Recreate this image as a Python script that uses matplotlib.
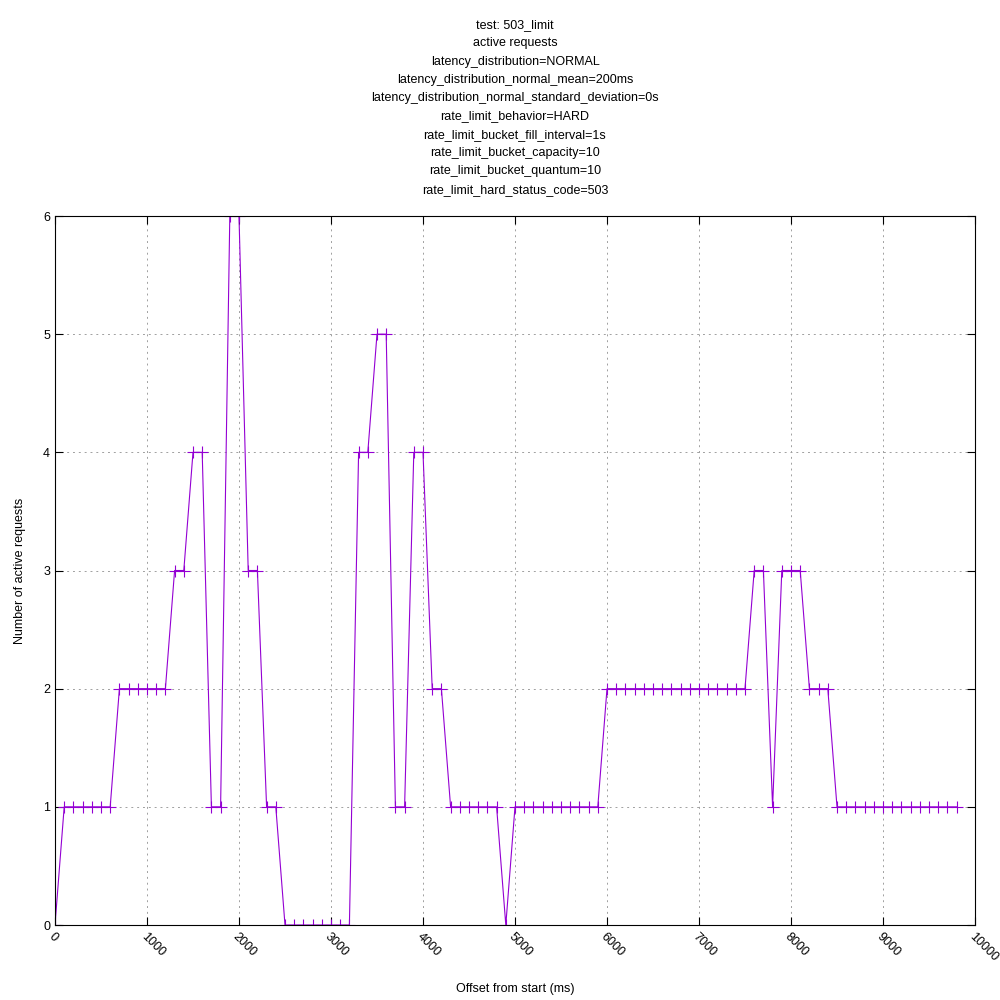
import matplotlib
matplotlib.use("Agg")
import matplotlib.pyplot as plt

plt.rcParams['font.family'] = ['Liberation Sans', 'DejaVu Sans']
plt.rcParams['font.size'] = 9

offsets = list(range(0, 9900, 100))
active = ([0, 1, 1, 1, 1, 1, 1, 2, 2, 2, 2, 2, 2, 3, 3, 4, 4, 1, 1, 6, 6, 3, 3, 1, 1,
           0, 0, 0, 0, 0, 0, 0, 0, 4, 4, 5, 5, 1, 1, 4, 4, 2, 2, 1, 1, 1, 1, 1, 1, 0,
           1, 1, 1, 1, 1, 1, 1, 1, 1, 1]
          + [2] * 16 + [3, 3, 1, 3, 3, 3, 2, 2, 2] + [1] * 14)

title_lines = ["test: 503_limit", "active requests", "latency_distribution=NORMAL",
               "latency_distribution_normal_mean=200ms",
               "latency_distribution_normal_standard_deviation=0s",
               "rate_limit_behavior=HARD", "rate_limit_bucket_fill_interval=1s",
               "rate_limit_bucket_capacity=10", "rate_limit_bucket_quantum=10",
               "rate_limit_hard_status_code=503"]

fig = plt.figure(figsize=(10, 10), dpi=100)
ax = fig.add_axes([0.055, 0.075, 0.92, 0.709])
ax.plot(offsets[:len(active)], active, color='#9400D3', lw=0.8, marker='+', ms=8, mew=0.8)
ax.set_xlim(0, 10000)
ax.set_ylim(0, 6)
ax.set_xticks(range(0, 10001, 1000))
ax.set_yticks(range(0, 7))
for lbl in ax.get_xticklabels():
    lbl.set_rotation(-45)
    lbl.set_ha('left')
    lbl.set_va('top')
    lbl.set_rotation_mode('anchor')
ax.tick_params(direction='in', top=True, right=True, length=6)
ax.tick_params(axis='x', pad=4)
ax.grid(True, color='#a0a0a0', ls=(0, (2, 4)), lw=0.7)
ax.set_xlabel("Offset from start (ms)", labelpad=14)
ax.set_ylabel("Number of active requests", labelpad=12)
fig.text(0.515, 0.981, "\n".join(title_lines), ha='center', va='top', linespacing=1.7)
fig.savefig("out.png")
